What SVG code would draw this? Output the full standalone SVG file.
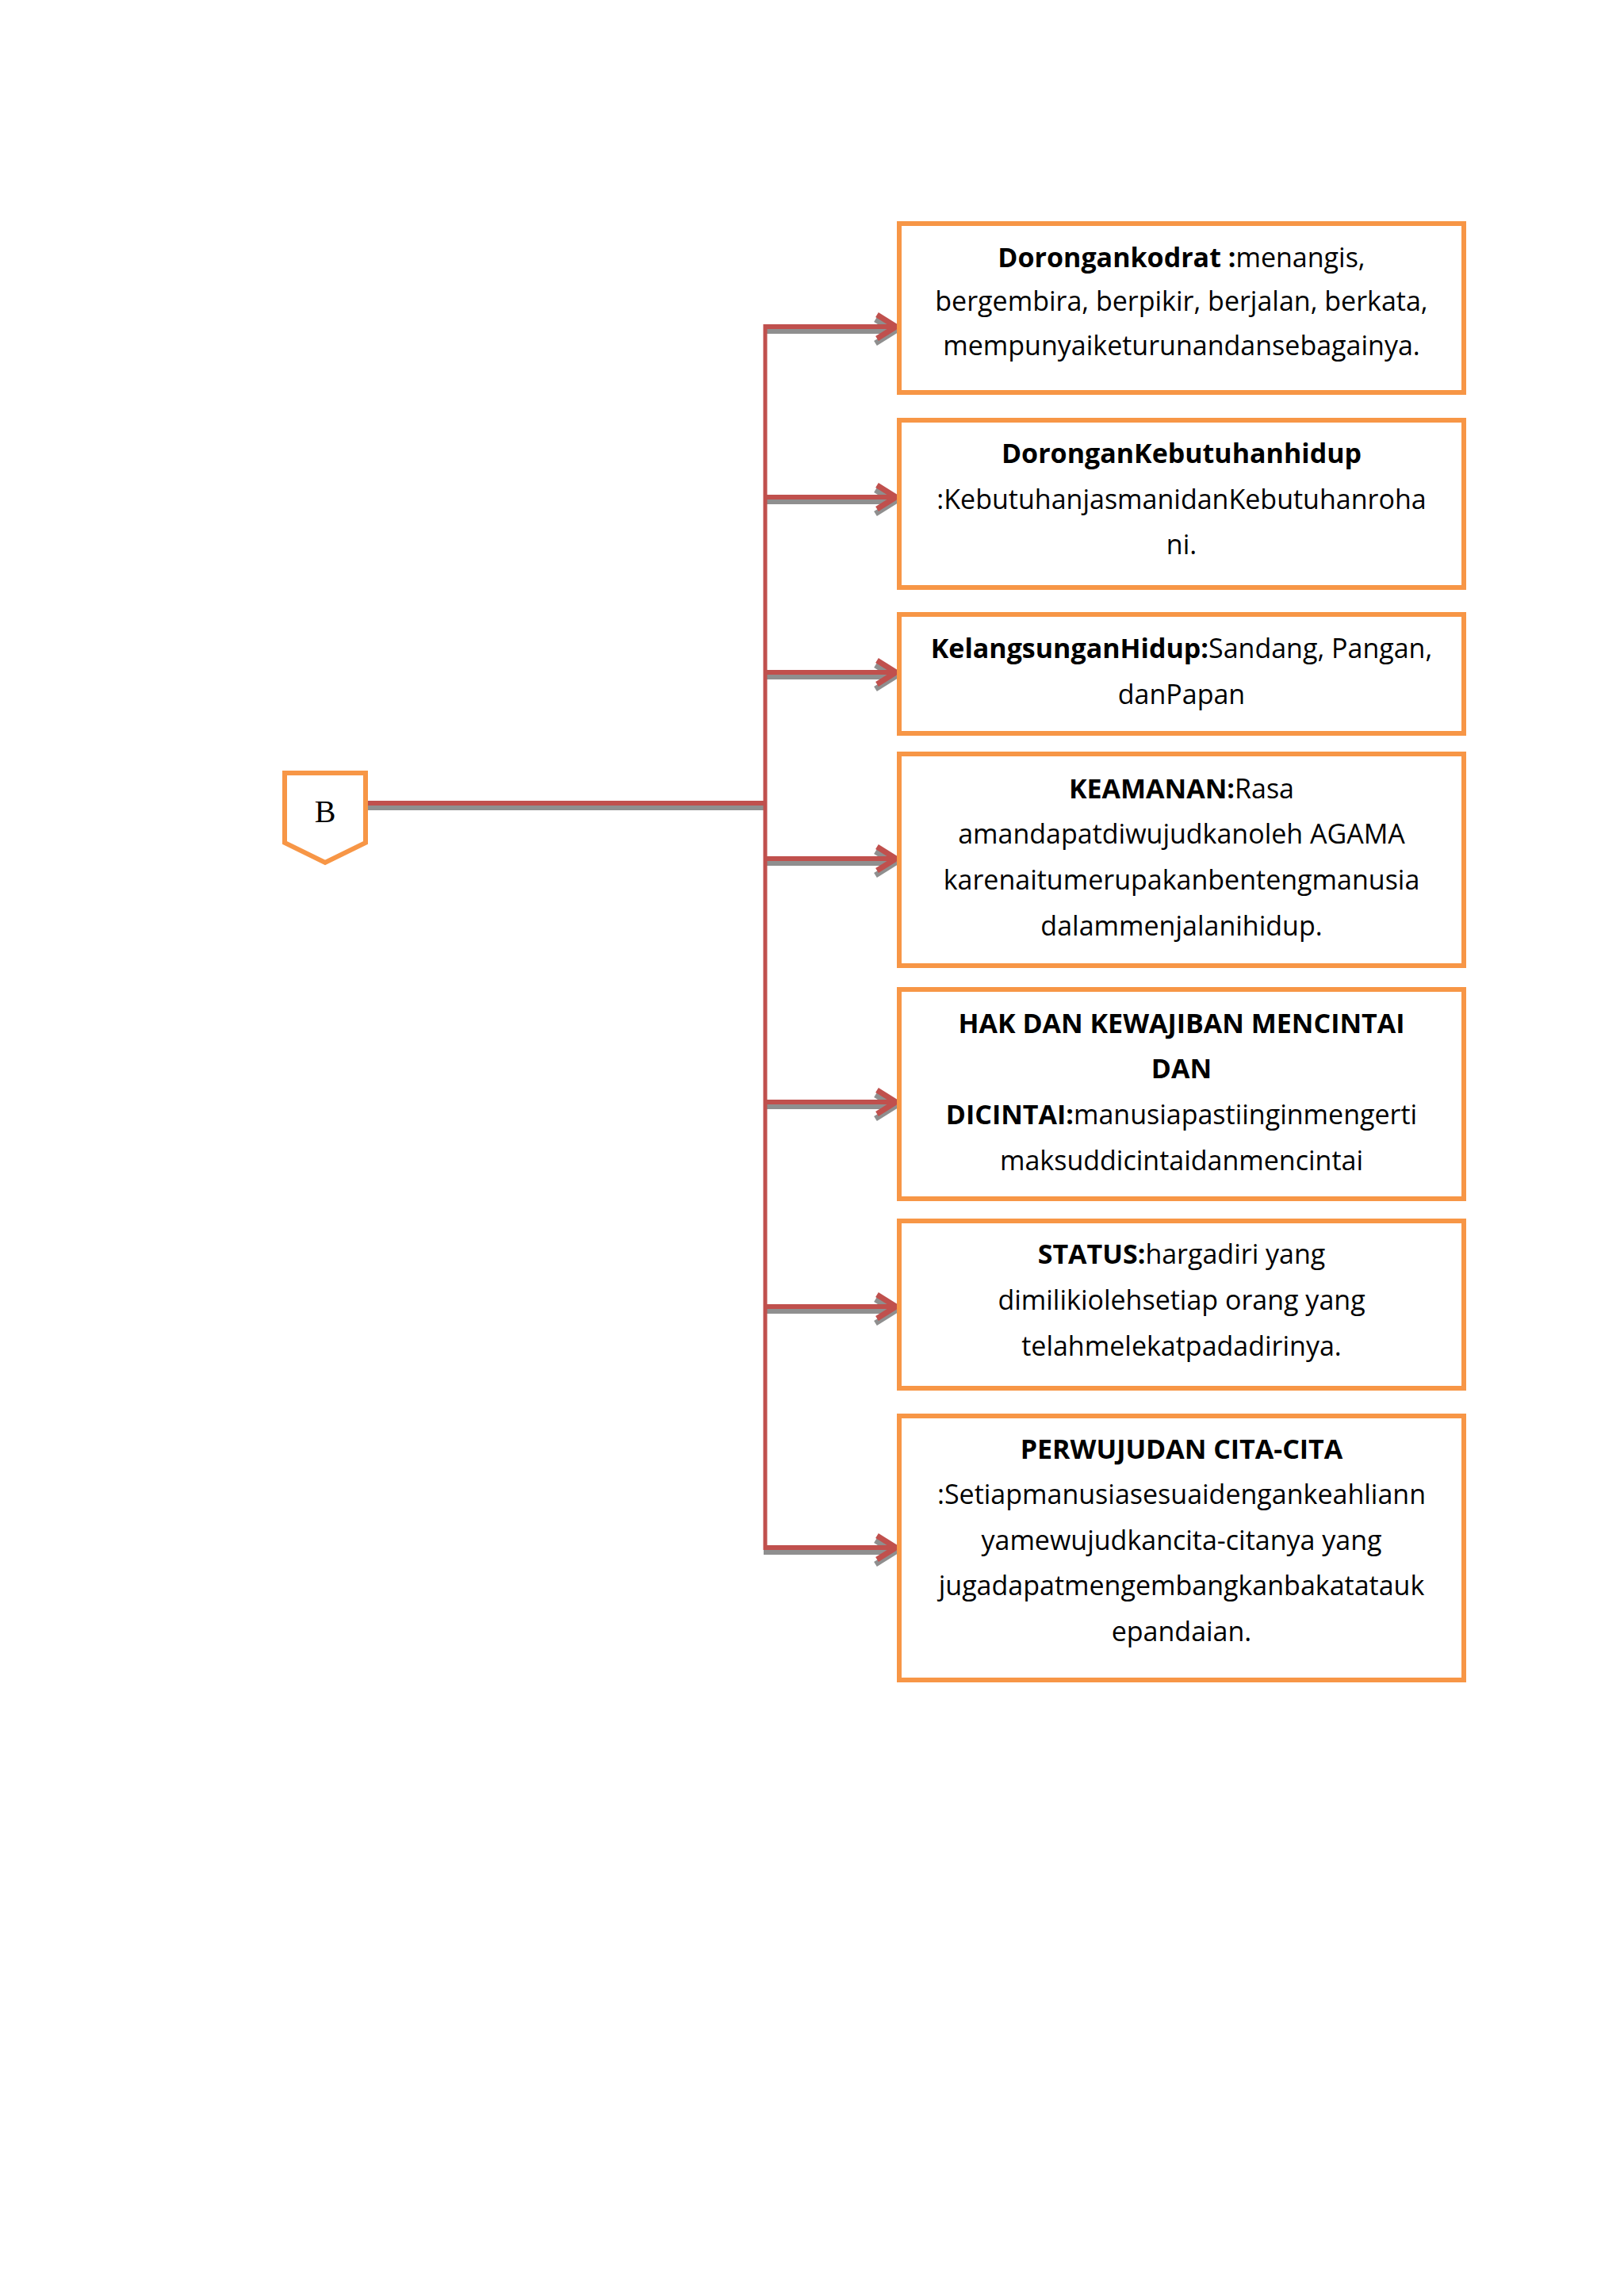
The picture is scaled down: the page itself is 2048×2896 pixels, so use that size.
<svg xmlns="http://www.w3.org/2000/svg" width="2048" height="2896" viewBox="0 0 2048 2896">
<defs>
<style>
.box{fill:#ffffff;stroke:#F79646;stroke-width:6}
.t{font-family:"Open Sans","Liberation Sans",sans-serif;font-size:34px;fill:#000;text-anchor:middle}
.b{font-weight:bold}
.red{stroke:#C0504D;fill:none}
.sh{stroke:#8f8f8f;fill:none}
</style>
<g id="arrowShape">
<line x1="965" y1="0" x2="1128" y2="0" stroke-width="6"/>
<polyline points="1106,-15 1130,0 1106,15" stroke-width="7"/>
</g>
</defs>
<rect width="2048" height="2896" fill="#ffffff"/>

<g id="connectors">
<g class="sh">
<line x1="464" y1="1019" x2="965" y2="1019" stroke-width="6"/>
<use href="#arrowShape" transform="translate(-2,418)"/>
<use href="#arrowShape" transform="translate(-2,633)"/>
<use href="#arrowShape" transform="translate(-2,854)"/>
<use href="#arrowShape" transform="translate(-2,1089)"/>
<use href="#arrowShape" transform="translate(-2,1396)"/>
<use href="#arrowShape" transform="translate(-2,1654)"/>
<use href="#arrowShape" transform="translate(-2,1958)"/>
</g>
<g class="red">
<line x1="464" y1="1013" x2="965" y2="1013" stroke-width="6"/>
<line x1="965" y1="409" x2="965" y2="1955" stroke-width="5"/>
<use href="#arrowShape" transform="translate(0,412)"/>
<use href="#arrowShape" transform="translate(0,627)"/>
<use href="#arrowShape" transform="translate(0,848)"/>
<use href="#arrowShape" transform="translate(0,1083)"/>
<use href="#arrowShape" transform="translate(0,1390)"/>
<use href="#arrowShape" transform="translate(0,1648)"/>
<use href="#arrowShape" transform="translate(0,1952)"/>
</g>
</g>

<g id="nodeB">
<polygon points="359,975 461,975 461,1063 410,1088 359,1063" fill="#ffffff" stroke="#F79646" stroke-width="6"/>
<text x="410" y="1037" font-family="Liberation Serif,serif" font-size="40" text-anchor="middle">B</text>
</g>

<g id="node1">
<rect class="box" x="1134" y="282" width="712" height="213"/>
<text class="t"><tspan x="1490" y="337"><tspan class="b">Dorongankodrat :</tspan>menangis,</tspan><tspan x="1490" y="392">bergembira, berpikir, berjalan, berkata,</tspan><tspan x="1490" y="448">mempunyaiketurunandansebagainya.</tspan></text>
</g>

<g id="node2">
<rect class="box" x="1134" y="530" width="712" height="211"/>
<text class="t"><tspan x="1490" y="584" class="b">DoronganKebutuhanhidup</tspan><tspan x="1490" y="642">:KebutuhanjasmanidanKebutuhanroha</tspan><tspan x="1490" y="699">ni.</tspan></text>
</g>

<g id="node3">
<rect class="box" x="1134" y="775" width="712" height="150"/>
<text class="t"><tspan x="1490" y="830"><tspan class="b">KelangsunganHidup:</tspan>Sandang, Pangan,</tspan><tspan x="1490" y="888">danPapan</tspan></text>
</g>

<g id="node4">
<rect class="box" x="1134" y="951" width="712" height="267"/>
<text class="t"><tspan x="1490" y="1007"><tspan class="b">KEAMANAN:</tspan>Rasa</tspan><tspan x="1490" y="1064">amandapatdiwujudkanoleh AGAMA</tspan><tspan x="1490" y="1122">karenaitumerupakanbentengmanusia</tspan><tspan x="1490" y="1180">dalammenjalanihidup.</tspan></text>
</g>

<g id="node5">
<rect class="box" x="1134" y="1248" width="712" height="264"/>
<text class="t"><tspan x="1490" y="1303" class="b">HAK DAN KEWAJIBAN MENCINTAI</tspan><tspan x="1490" y="1360" class="b">DAN</tspan><tspan x="1490" y="1418"><tspan class="b">DICINTAI:</tspan>manusiapastiinginmengerti</tspan><tspan x="1490" y="1476">maksuddicintaidanmencintai</tspan></text>
</g>

<g id="node6">
<rect class="box" x="1134" y="1540" width="712" height="211"/>
<text class="t"><tspan x="1490" y="1594"><tspan class="b">STATUS:</tspan>hargadiri yang</tspan><tspan x="1490" y="1652">dimilikiolehsetiap orang yang</tspan><tspan x="1490" y="1710">telahmelekatpadadirinya.</tspan></text>
</g>

<g id="node7">
<rect class="box" x="1134" y="1786" width="712" height="333"/>
<text class="t"><tspan x="1490" y="1840" class="b">PERWUJUDAN CITA-CITA</tspan><tspan x="1490" y="1897">:Setiapmanusiasesuaidengankeahliann</tspan><tspan x="1490" y="1955">yamewujudkancita-citanya yang</tspan><tspan x="1490" y="2012">jugadapatmengembangkanbakatatauk</tspan><tspan x="1490" y="2070">epandaian.</tspan></text>
</g>
</svg>
